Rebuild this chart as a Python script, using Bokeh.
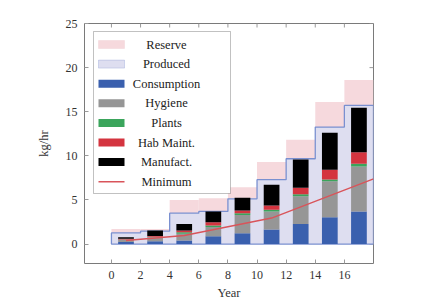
import numpy as np
from bokeh.plotting import figure
from bokeh.models import Range1d, FixedTicker, Label, BoxAnnotation
from bokeh.embed import file_html
from bokeh.resources import INLINE

# --- data -------------------------------------------------------------
years = [1, 3, 5, 7, 9, 11, 13, 15, 17]                 # bar centres
period_edges = [0, 2, 4, 6, 8, 10, 12, 14, 16, 18]      # production periods

consumption = [0.25, 0.32, 0.40, 0.90, 1.23, 1.65, 2.29, 3.04, 3.69]
hygiene     = [0.25, 0.45, 0.76, 1.05, 2.08, 2.04, 3.14, 4.09, 5.11]
plants      = [0.03, 0.05, 0.19, 0.15, 0.19, 0.19, 0.22, 0.19, 0.30]
hab_maint   = [0.07, 0.10, 0.18, 0.37, 0.30, 0.49, 0.73, 1.10, 1.32]
manufact    = [0.17, 0.61, 0.76, 1.23, 1.44, 2.35, 3.21, 4.20, 5.04]

produced = [1.27, 1.46, 3.50, 3.70, 5.13, 7.30, 9.67, 13.26, 15.72]
reserve  = [0.45, 0.26, 1.50, 1.50, 1.32, 2.00, 2.16, 2.84, 2.88]

min_year = [1, 5, 11, 18]
min_rate = [0.40, 0.97, 2.95, 7.40]

x_ticks = [0, 2, 4, 6, 8, 10, 12, 14, 16]
y_ticks = [0, 5, 10, 15, 20, 25]

# --- styling ----------------------------------------------------------
FONT = "Liberation Serif"
C_RESERVE = "#f6d9dd"
C_PROD_FILL = "#dedef0"
C_PROD_LINE = "#7a90d0"
C_CONS = "#3a60ae"
C_HYG = "#969696"
C_PLANT = "#3ba55c"
C_HAB = "#d4343f"
C_MANU = "#000000"
C_MIN = "#d9545a"
C_TICK = "#9a9a9a"

W, H = 430, 303
FL, FR, FT, FB = 84, 373, 23, 263
X0, X1 = -1.85, 18.0
Y0, Y1 = -2.2, 25.0

p = figure(width=W, height=H, output_backend="svg", toolbar_location=None,
           x_range=Range1d(X0, X1), y_range=Range1d(Y0, Y1),
           min_border_left=FL, min_border_right=W - FR,
           min_border_top=FT, min_border_bottom=H - FB)
p.background_fill_color = "white"
p.border_fill_color = "white"
p.outline_line_color = "#7a7a7a"
p.outline_line_width = 1
p.grid.visible = False

for ax in (p.xaxis[0], p.yaxis[0]):
    ax.axis_line_color = None
    ax.major_tick_in = 4
    ax.major_tick_out = 0
    ax.minor_tick_line_color = None
    ax.major_tick_line_color = C_TICK
    ax.major_label_text_font = FONT
    ax.major_label_text_color = "#333333"
    ax.major_label_text_font_size = "12px"
    ax.axis_label_text_font = FONT
    ax.axis_label_text_font_style = "normal"
    ax.axis_label_text_font_size = "12.5px"
    ax.axis_label_text_color = "#333333"

p.xaxis.ticker = FixedTicker(ticks=x_ticks)
p.yaxis.ticker = FixedTicker(ticks=y_ticks)
p.xaxis.axis_label = "Year"
p.yaxis.axis_label = "kg/hr"
p.xaxis.major_label_standoff = 7
p.xaxis.axis_label_standoff = 4
p.yaxis.major_label_standoff = 7
p.yaxis.axis_label_standoff = 12

# pixel -> data helpers for frame decorations and the legend
def dx(sx):
    return X0 + (sx - FL) / (FR - FL) * (X1 - X0)

def dy(sy):
    return Y1 - (sy - FT) / (FB - FT) * (Y1 - Y0)

# inward tick marks on the top and right edges of the frame
tick_dx = dx(FL + 4) - X0
tick_dy = Y1 - dy(FT + 4)
p.segment(x0=x_ticks, x1=x_ticks, y0=[Y1] * len(x_ticks),
          y1=[Y1 - tick_dy] * len(x_ticks), line_color=C_TICK, line_width=1)
p.segment(x0=[X1] * len(y_ticks), x1=[X1 - tick_dx] * len(y_ticks),
          y0=y_ticks, y1=y_ticks, line_color=C_TICK, line_width=1)

# --- reserve and produced areas ---------------------------------------
edges = np.array(period_edges, dtype=float)
prod = np.array(produced)
res = np.array(reserve)
p.quad(left=edges[:-1], right=edges[1:], bottom=prod, top=prod + res,
       fill_color=C_RESERVE, line_color=None)

px = np.repeat(edges, 2)
py = np.concatenate([[0.0], np.repeat(prod, 2), [0.0]])
p.patch(px, py, fill_color=C_PROD_FILL, line_color=C_PROD_LINE, line_width=1.3)

# --- stacked demand bars ----------------------------------------------
bottom = np.zeros(len(years))
for vals, col in [(consumption, C_CONS), (hygiene, C_HYG), (plants, C_PLANT),
                  (hab_maint, C_HAB), (manufact, C_MANU)]:
    top = bottom + np.array(vals)
    p.vbar(x=years, width=1.08, bottom=bottom, top=top,
           fill_color=col, line_color=None)
    bottom = top

# --- minimum line ----------------------------------------------------
p.line(min_year, min_rate, line_color=C_MIN, line_width=1.4)

# --- legend (drawn by hand so labels can be centred) ------------------
p.add_layout(BoxAnnotation(left=dx(93), right=dx(230), top=dy(31), bottom=dy(193),
                           fill_color="white", fill_alpha=1.0,
                           line_color="#333333", line_width=1, level="overlay"))

entries = [("Reserve", C_RESERVE, "#efc4ca"),
           ("Produced", C_PROD_FILL, C_PROD_LINE),
           ("Consumption", C_CONS, None),
           ("Hygiene", C_HYG, None),
           ("Plants", C_PLANT, None),
           ("Hab Maint.", C_HAB, None),
           ("Manufact.", C_MANU, None),
           ("Minimum", None, None)]
for i, (name, fill, edge) in enumerate(entries):
    cy = 44 + i * 19.6
    if fill is None:
        p.add_layout(BoxAnnotation(left=dx(98), right=dx(124),
                                   top=dy(cy - 0.7), bottom=dy(cy + 0.7),
                                   fill_color=C_MIN, fill_alpha=1.0,
                                   line_color=None, level="overlay"))
    else:
        p.add_layout(BoxAnnotation(left=dx(98), right=dx(124),
                                   top=dy(cy - 4), bottom=dy(cy + 4),
                                   fill_color=fill, fill_alpha=1.0,
                                   line_color=edge, line_width=1 if edge else 0,
                                   level="overlay"))
    p.add_layout(Label(x=dx(166), y=dy(cy), text=name, text_align="center",
                       text_baseline="middle", text_font=FONT,
                       text_font_size="12.5px", text_color="#222222",
                       level="overlay"))

open("out.html", "w").write(file_html(p, INLINE))
